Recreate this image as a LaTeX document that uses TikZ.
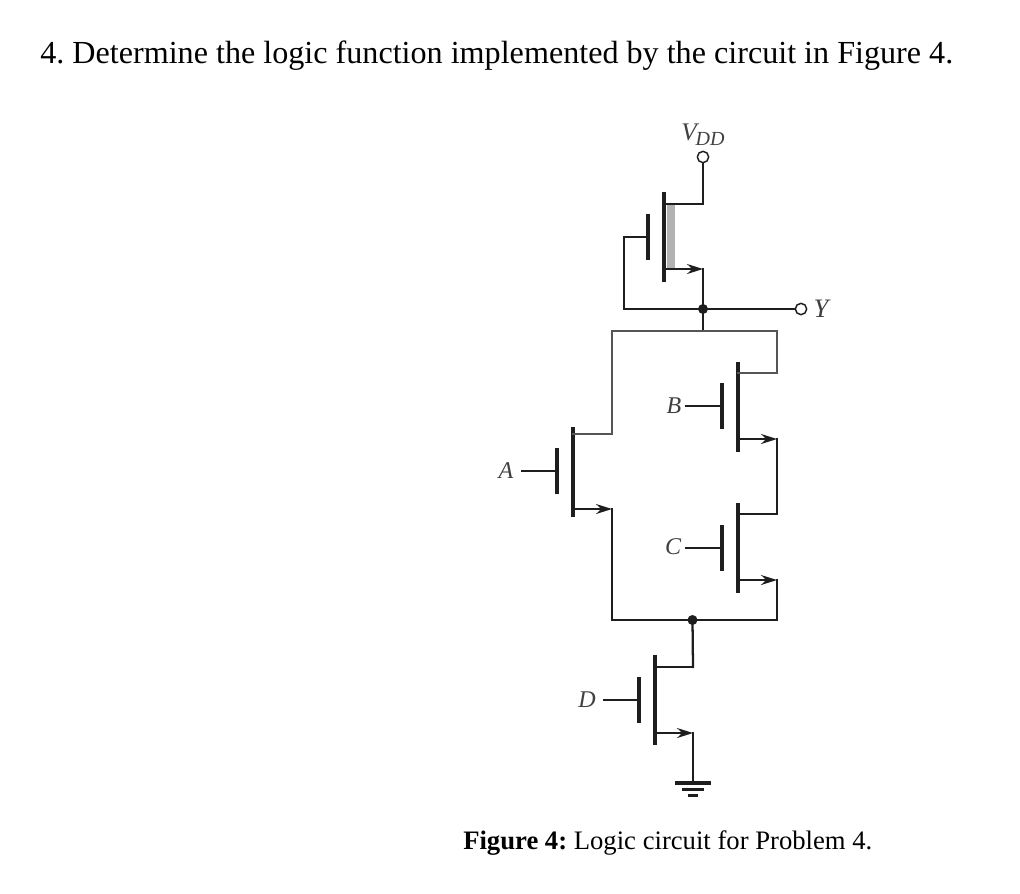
\documentclass[tikz,border=0pt]{standalone}
\usepackage{fontspec}
\setmainfont{Liberation Serif}
\usetikzlibrary{arrows.meta}
\definecolor{inkc}{HTML}{1E1E1E}
\definecolor{thinc}{HTML}{555555}
\tikzset{
  wire/.style={draw=inkc, line width=1.7pt, line cap=rect},
  thinwire/.style={draw=thinc, line width=1.4pt, line cap=rect},
  channel/.style={draw=inkc, line width=3.5pt},
  gatebar/.style={draw=inkc, line width=3pt},
  srcwire/.style={draw=inkc, line width=1.7pt, -{Stealth[length=12pt, width=7.5pt, inset=4pt]}},
  term/.style={draw=inkc, circle, line width=1.1pt, fill=white, inner sep=0pt, minimum size=8.5pt},
  dot/.style={fill=inkc, circle, inner sep=0pt, minimum size=7.5pt},
  lab/.style={inner sep=0pt, text=black!75, font=\itshape\fontsize{18}{18}\selectfont},
  txt/.style={inner sep=0pt, anchor=base west}
}
\begin{document}
\frenchspacing
\begin{tikzpicture}[x=0.75pt, y=-0.75pt]
  \useasboundingbox (0,0) rectangle (1020,893);

  % Text
  \node[txt, font=\fontsize{24.1}{26}\selectfont] (title) at (40,63) {4. Determine the logic function implemented by the circuit in Figure 4.};
  \node[txt, font=\fontsize{20}{22}\selectfont] (caption) at (463,849) {\textbf{Figure 4:} Logic circuit for Problem 4.};

  % Grey strip of the load device
  \fill[black!30] (667,204) rectangle (675,269);

  % Draw the transistors: name/channel x/gate y/top/drain y/source y/wire x
  \foreach \t/\x/\g/\top/\d/\s/\w in {
      p/664/237/192/204/269/703,
      a/573/471/427/434/509/612,
      b/738/406/362/373/439/777,
      c/738/548/503/514/580/777,
      d/655/700/655/667/733/693} {
    \coordinate (\t top) at (\x,\top);
    \coordinate (\t bot) at (\x,\top+90);
    \coordinate (\t gt) at (\x-16.5,\g-23);
    \coordinate (\t gb) at (\x-16.5,\g+23);
    \coordinate (\t g) at (\x-16.5,\g);
    \coordinate (\t ds) at (\x,\d);
    \coordinate (\t de) at (\w,\d);
    \coordinate (\t ss) at (\x,\s);
    \coordinate (\t se) at (\w,\s);
    \draw[channel] (\t top) -- (\t bot);
    \draw[gatebar] (\t gt) -- (\t gb);
    \draw[srcwire] (\t ss) -- (\t se);
  }
  \draw[wire] (pds) -- (pde);
  \draw[thinwire] (ads) -- (ade);
  \draw[thinwire] (bds) -- (bde);
  \draw[wire] (cds) -- (cde);
  \draw[wire] (dds) -- (dde);

  % Terminals and joints
  \coordinate (railm) at (703,331);
  \coordinate (raila) at (612,331);
  \coordinate (railb) at (777,331);
  \coordinate (lowa) at (612,620);
  \coordinate (lowc) at (777,620);
  \coordinate (gnd) at (693,783);
  \coordinate (pback) at (624,309);
  \coordinate (pturn) at (624,237);
  \coordinate (outj) at (703,309);
  \coordinate (out) at (801,309);

  % Load device wiring
  \draw[wire] (703,157) -- (pde);
  \draw[wire] (pse) -- (outj);
  \draw[wire] (pg) -- (pturn) -- (pback) -- (outj);
  \draw[wire] (outj) -- (out);
  \draw[wire] (outj) -- (railm);

  % Network wiring
  \draw[thinwire] (ade) -- (raila) -- (railb) -- (bde);
  \draw[wire] (ase) -- (lowa) -- (lowc) -- (cse);
  \draw[wire] (bse) -- (cde);
  \draw[wire] (692.5,620) -- (dde);
  \draw[wire] (dse) -- (gnd);

  % Joints on top of the wires
  \node[term] (vdd) at (703,157) {};
  \node[term] (outt) at (out) {};
  \node[dot] (outd) at (outj) {};
  \node[dot] (botj) at (692.5,620) {};

  % Ground
  \draw[draw=inkc, line width=2.4pt] (675,783) -- (711,783);
  \draw[draw=inkc, line width=2.4pt] (682,789.5) -- (704,789.5);
  \draw[draw=inkc, line width=2.8pt] (688,795.5) -- (698,795.5);

  % Input stubs and labels
  \node[lab] (la) at (506,471) {A};
  \node[lab] (lb) at (674,406) {B};
  \node[lab] (lc) at (673,547) {C};
  \node[lab] (ld) at (587,700) {D};
  \node[lab, font=\itshape\fontsize{20}{20}\selectfont] (ly) at (821,309) {Y};
  \node[lab, font=\itshape\fontsize{19}{19}\selectfont] (lv) at (703,135) {V\kern-1pt\raisebox{-3.5pt}{\fontsize{15}{15}\selectfont DD}};
  \draw[wire] (ag) -- ++(-34,0);
  \draw[wire] (bg) -- ++(-35,0);
  \draw[wire] (cg) -- ++(-35,0);
  \draw[wire] (dg) -- ++(-34,0);
\end{tikzpicture}
\end{document}
